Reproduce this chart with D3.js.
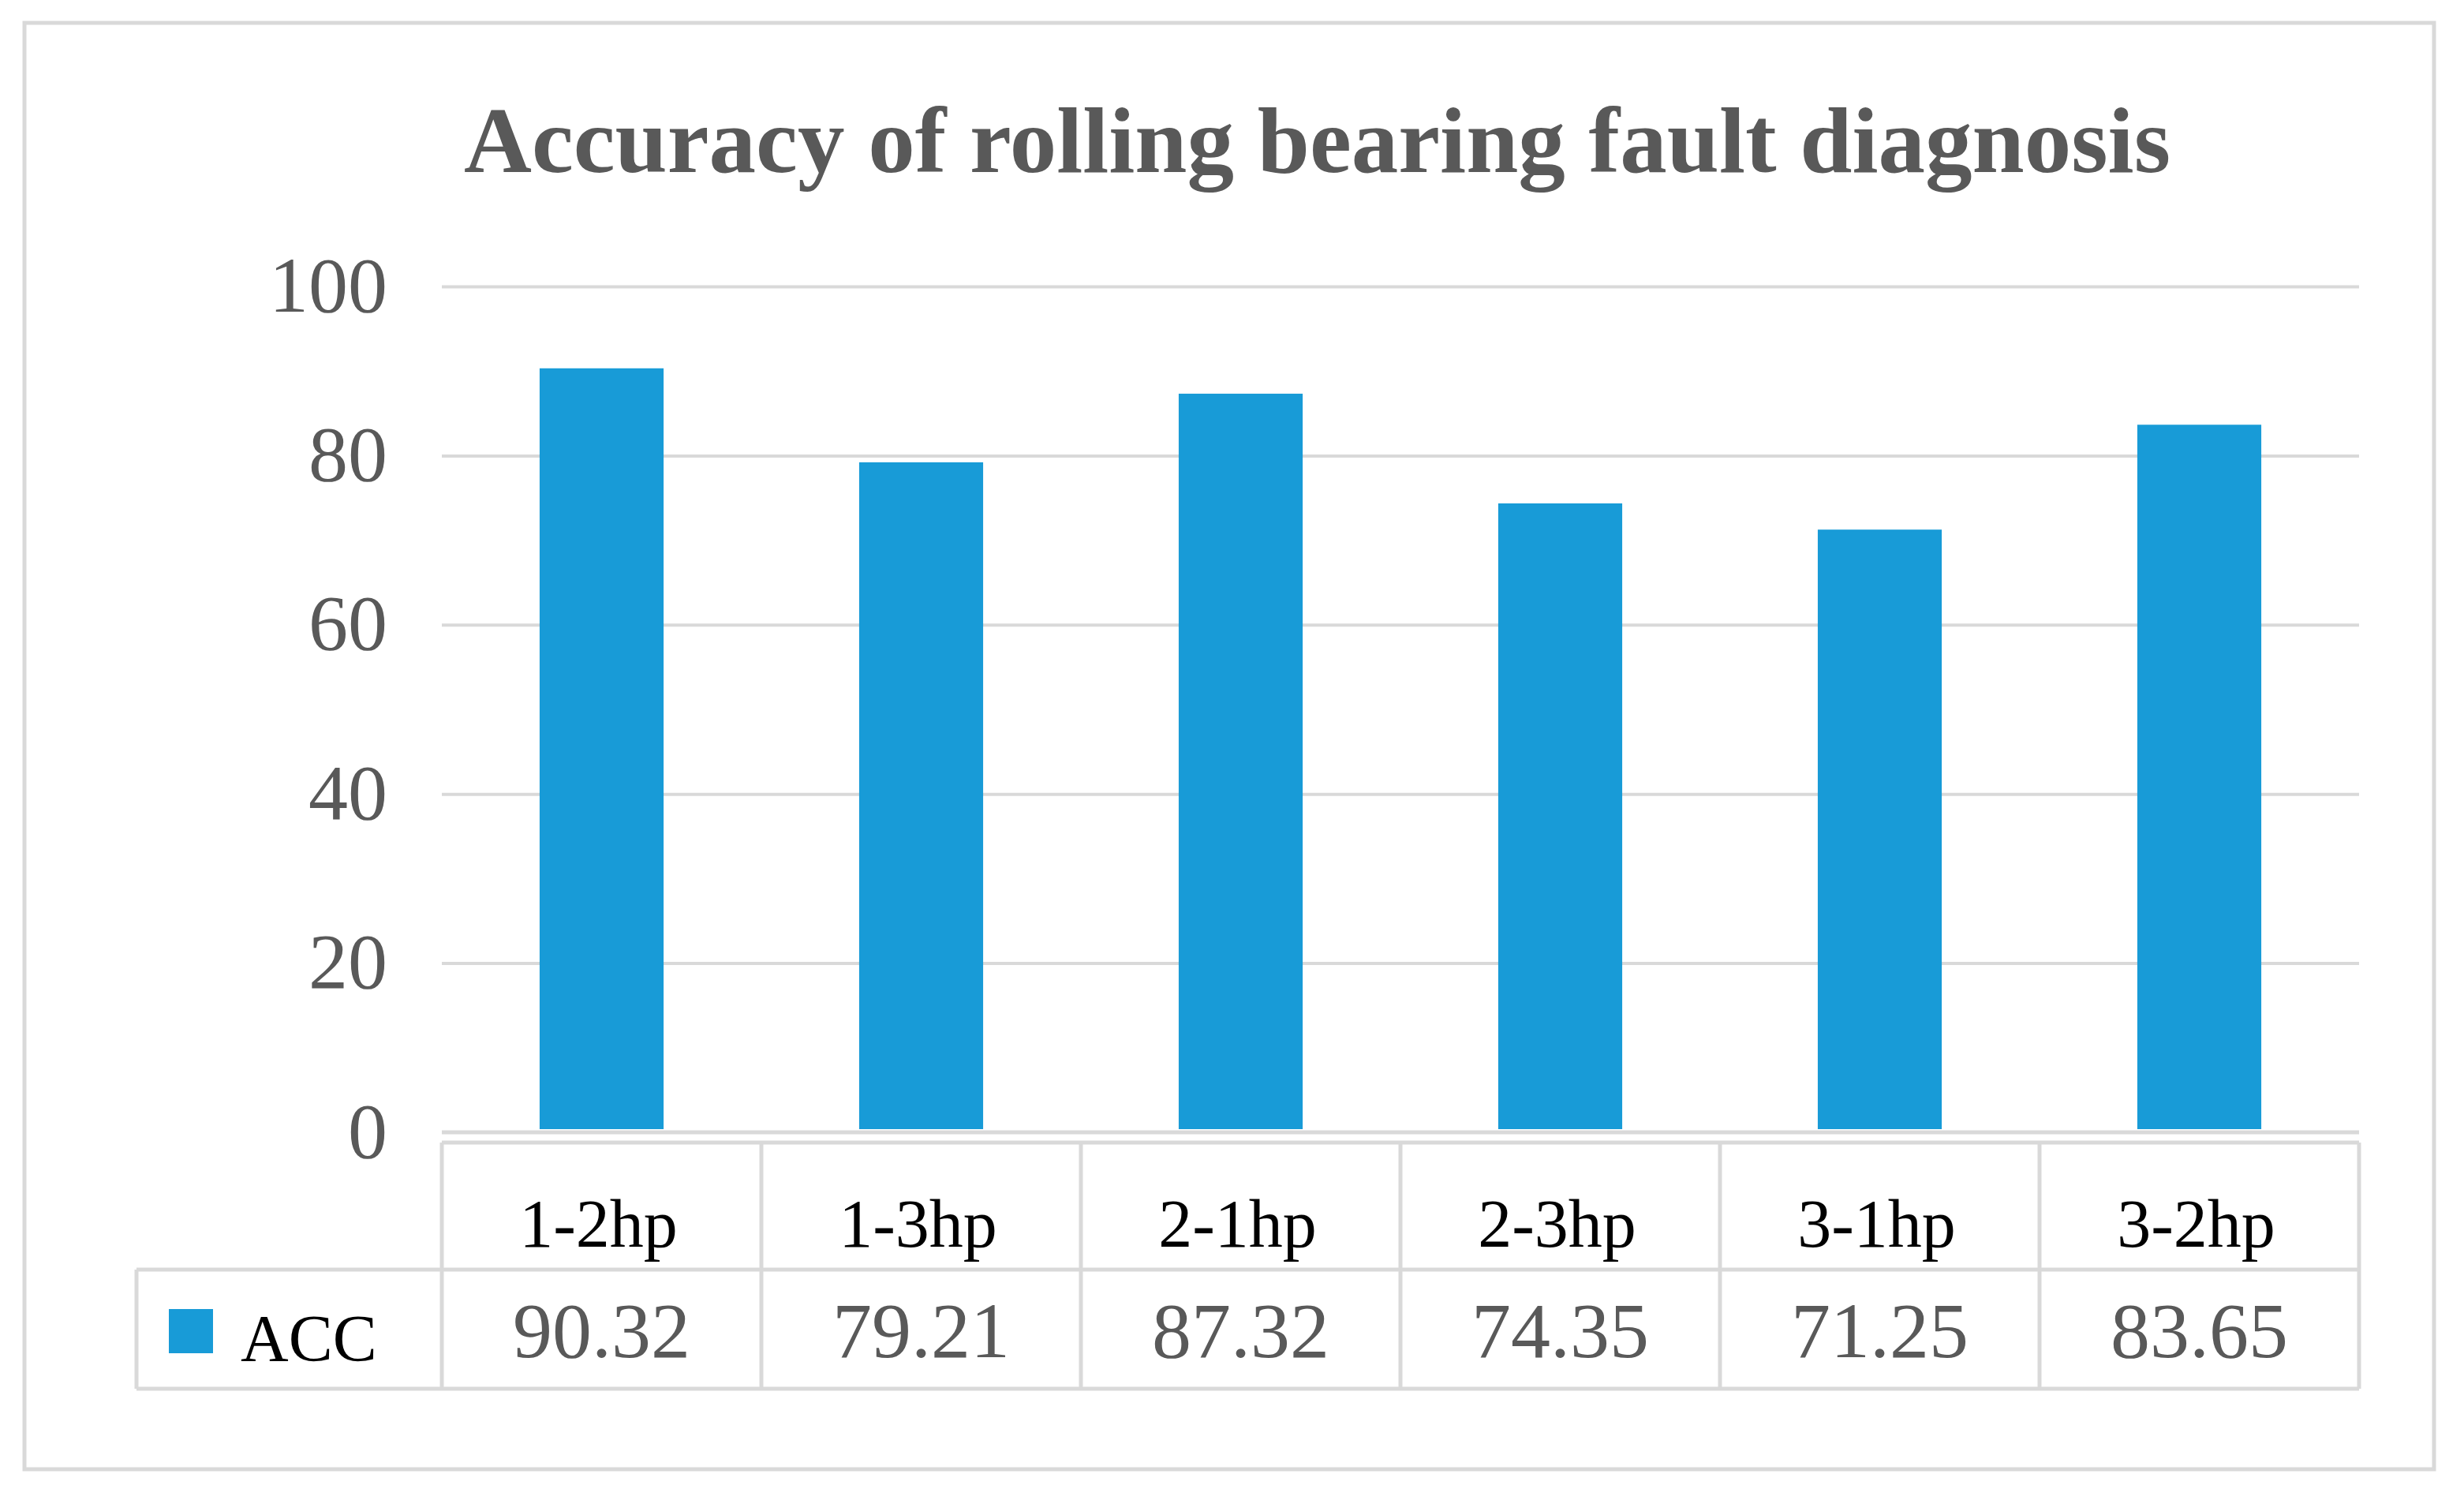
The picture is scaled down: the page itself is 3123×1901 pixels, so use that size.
<!DOCTYPE html>
<html>
<head>
<meta charset="utf-8">
<script src="https://cdn.jsdelivr.net/npm/d3@7"></script>
<style>
  body { margin: 0; background: #fff; }
  svg text { font-family: "Liberation Serif", "Times New Roman", serif; }
</style>
</head>
<body>
<svg id="chart" width="3123" height="1901"></svg>
<script>
var categories = ["1-2hp", "1-3hp", "2-1hp", "2-3hp", "3-1hp", "3-2hp"];
var accValues = [90.32, 79.21, 87.32, 74.35, 71.25, 83.65];
var yTicks = [0, 20, 40, 60, 80, 100];
var seriesName = "ACC";
var title = "Accuracy of rolling bearing fault diagnosis";

var svg = d3.select("#chart"),
    lineColor = "#d9d9d9",
    barColor = "#189bd7",
    textGrey = "#595959",
    margins = { left: 560, right: 2990, top: 363, bottom: 1435 };

// outer chart frame
svg.append("rect")
    .attr("x", 31).attr("y", 29)
    .attr("width", 3085 - 31).attr("height", 1862 - 29)
    .attr("fill", "#fff")
    .attr("stroke", lineColor)
    .attr("stroke-width", 5);

svg.append("text")
    .attr("x", 588)
    .attr("y", 218)
    .attr("font-size", 119)
    .attr("font-weight", "bold")
    .attr("fill", textGrey)
    .text(title);

var xScale = d3.scaleBand()
    .domain(categories)
    .range([margins.left, margins.right])
    .paddingInner(0.612)
    .paddingOuter(0.306);

var yScale = d3.scaleLinear()
    .domain([0, 100])
    .range([margins.bottom, margins.top]);

// gridlines
svg.append("g")
    .attr("class", "grid")
    .attr("transform", "translate(" + margins.left + ",0)")
    .call(d3.axisLeft(yScale)
        .tickValues(yTicks.filter(function (d) { return d > 0; }))
        .tickSize(-(margins.right - margins.left))
        .tickFormat(""))
    .call(function (g) {
        g.select(".domain").remove();
        g.selectAll("line").attr("stroke", lineColor).attr("stroke-width", 4);
    });

// y tick labels
svg.append("g")
    .attr("class", "y axis")
    .attr("transform", "translate(491,0)")
    .call(d3.axisLeft(yScale).tickValues(yTicks).tickSize(0).tickPadding(0))
    .call(function (g) {
        g.select(".domain").remove();
        g.selectAll("text")
            .attr("font-family", "Liberation Serif")
            .attr("font-size", 100)
            .attr("fill", textGrey)
            .attr("dy", 31);
    });

// bars
svg.append("g")
    .selectAll("rect")
    .data(accValues)
    .join("rect")
    .attr("x", function (d, i) { return xScale(categories[i]); })
    .attr("y", function (d) { return yScale(d); })
    .attr("width", xScale.bandwidth())
    .attr("height", function (d) { return yScale(0) - yScale(d) - 4; })
    .attr("fill", barColor);

// category axis line
svg.append("line")
    .attr("x1", margins.left).attr("x2", margins.right)
    .attr("y1", yScale(0)).attr("y2", yScale(0))
    .attr("stroke", lineColor)
    .attr("stroke-width", 5);

// data table below the chart
var step = xScale.step(),
    tableTop = 1448,
    rowMid = 1609,
    tableBottom = 1760,
    legendLeft = 173;

var table = svg.append("g")
    .attr("class", "table")
    .attr("stroke", lineColor)
    .attr("stroke-width", 5)
    .attr("fill", "none");

table.append("path")
    .attr("d", "M" + margins.left + "," + tableTop + "H" + margins.right +
        "M" + legendLeft + "," + rowMid + "H" + margins.right +
        "M" + legendLeft + "," + tableBottom + "H" + margins.right +
        "M" + legendLeft + "," + rowMid + "V" + tableBottom);

table.selectAll("line.v")
    .data(d3.range(categories.length + 1))
    .join("line")
    .attr("class", "v")
    .attr("x1", function (k) { return margins.left + k * step; })
    .attr("x2", function (k) { return margins.left + k * step; })
    .attr("y1", tableTop)
    .attr("y2", tableBottom);

svg.append("g")
    .selectAll("text")
    .data(categories)
    .join("text")
    .attr("x", function (d) { return xScale(d) + xScale.bandwidth() / 2 - 4; })
    .attr("y", 1580)
    .attr("text-anchor", "middle")
    .attr("font-size", 86)
    .attr("fill", "#000")
    .text(function (d) { return d; });

svg.append("g")
    .selectAll("text")
    .data(accValues)
    .join("text")
    .attr("x", function (d, i) { return xScale(categories[i]) + xScale.bandwidth() / 2; })
    .attr("y", 1720)
    .attr("text-anchor", "middle")
    .attr("font-size", 100)
    .attr("fill", textGrey)
    .text(function (d) { return d.toFixed(2); });

// legend key in the table
svg.append("rect")
    .attr("x", 214).attr("y", 1659)
    .attr("width", 56).attr("height", 56)
    .attr("fill", barColor);

svg.append("text")
    .attr("x", 305)
    .attr("y", 1725)
    .attr("font-size", 84)
    .attr("fill", "#000")
    .text(seriesName);
</script>
</body>
</html>
